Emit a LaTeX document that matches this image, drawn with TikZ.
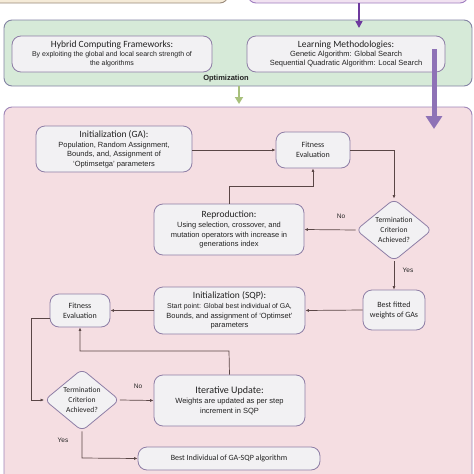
\documentclass[tikz,border=0pt]{standalone}
\usepackage{fontspec}
\setmainfont{Liberation Sans}
\newfontfamily\calfont{Carlito}
\usetikzlibrary{arrows.meta,shapes.geometric,calc}
\definecolor{bordc}{HTML}{8E7EA6}
\definecolor{boxfill}{HTML}{F2F1F3}
\definecolor{connc}{HTML}{5A4646}
\definecolor{pinkfill}{HTML}{F5DEE2}
\definecolor{pinkbord}{HTML}{9E86B8}
\definecolor{greenfill}{HTML}{D6EAD8}
\definecolor{greenbord}{HTML}{8383A3}
\definecolor{toplfill}{HTML}{F5EBD8}
\definecolor{toplbord}{HTML}{9A8A7A}
\definecolor{toprfill}{HTML}{F1E2F1}
\definecolor{toprbord}{HTML}{A07DC0}
\definecolor{darkpurp}{HTML}{6E3A9E}
\definecolor{lightpurp}{HTML}{8E72B6}
\definecolor{greenarr}{HTML}{A8C07C}
\definecolor{txt}{HTML}{222222}
\tikzset{
  box/.style={draw=bordc, fill=boxfill, rounded corners=9pt, line width=0.8pt,
    align=center, inner sep=1pt, text=txt, font=\fontsize{7.5}{9.6}\selectfont},
  panel/.style={rounded corners=8pt, line width=0.9pt, inner sep=0pt},
  dia/.style={draw=bordc, fill=boxfill, diamond, rounded corners=6pt,
    line width=0.8pt, inner sep=0pt},
  diatext/.style={align=center, text=txt, font=\calfont\fontsize{7.6}{10}\selectfont},
  conn/.style={draw=connc, line width=0.7pt, -{Latex[length=3.5pt,width=3pt]}},
  lbl/.style={text=txt, font=\fontsize{6.5}{8}\selectfont}
}
\newcommand{\ttlfont}{\calfont\fontsize{9.5}{11}\selectfont}
\newcommand{\smcal}{\calfont\fontsize{8}{10}\selectfont}
\begin{document}
\begin{tikzpicture}[x=1pt,y=-1pt]
\useasboundingbox (0,0) rectangle (474,474);

% top partial panels
\node[panel, draw=toplbord, fill=toplfill, minimum width=240, minimum height=44] (topL) at (108,-19) {};
\node[panel, draw=toprbord, fill=toprfill, minimum width=220, minimum height=44] (topR) at (358,-19) {};

% green panel
\node[panel, draw=greenbord, fill=greenfill, minimum width=468, minimum height=66] (grn) at (238,53) {};
% pink panel
\node[panel, draw=pinkbord, fill=pinkfill, minimum width=468, minimum height=390] (pink) at (238,302) {};

% green panel contents
\node[box, minimum width=200, minimum height=36] (hyb) at (112,54)
  {{\ttlfont Hybrid Computing Frameworks:}\\[-0.5pt]
   {\fontsize{7}{9.5}\selectfont By exploiting the global and local search strength of}\\
   {\fontsize{7}{9.5}\selectfont the algorithms}};
\node[box, minimum width=198, minimum height=36] (learn) at (346,54)
  {{\ttlfont Learning Methodologies:}\\[-0.5pt]
   Genetic Algorithm: Global Search\\
   Sequential Quadratic Algorithm: Local Search};
\node[text=txt, font=\bfseries\fontsize{7.5}{9}\selectfont] (opt) at (226,79) {Optimization};

% arrows between panels
\coordinate (pa) at (359,28);
\draw[darkpurp, line width=1.6pt, -{Triangle[length=7pt,width=7pt]}] (topR.south -| pa) -- (pa);
\coordinate (ga1) at (239,86);
\coordinate (ga2) at (239,104);
\draw[greenarr, line width=2.4pt, -{Triangle[length=7pt,width=8pt]}] (ga1) -- (ga2);
\coordinate (ta1) at (434,49);
\coordinate (ta2) at (434,129);
\draw[lightpurp, line width=5pt, -{Triangle[length=13pt,width=16pt]}] (ta1) -- (ta2);

% GA part
\node[box, minimum width=156, minimum height=46] (initga) at (114,149)
  {{\ttlfont Initialization (GA):}\\[0.5pt]
   Population, Random Assignment,\\
   Bounds, and, Assignment of\\
   `Optimsetga' parameters};
\node[box, minimum width=74, minimum height=36, font=\smcal] (fit1) at (313,150)
  {Fitness\\Evaluation};
\node[dia, minimum width=76, minimum height=62] (d1) at (394,230) {};
\node[diatext] (d1t) at (394,229.5) {Termination\\Criterion\\Achieved?};
\node[box, minimum width=150, minimum height=51] (repro) at (229,229.5)
  {{\ttlfont Reproduction:}\\[0.5pt]
   Using selection, crossover, and\\
   mutation operators with increase in\\
   generations index};
\node[box, minimum width=62, minimum height=40, font=\smcal] (bestfit) at (394,310)
  {Best fitted\\weights of GAs};

% SQP part
\node[box, minimum width=151, minimum height=47] (initsqp) at (229.5,310.5)
  {{\ttlfont Initialization (SQP):}\\[0.5pt]
   {\fontsize{7}{9.5}\selectfont Start point: Global best individual of GA,}\\
   Bounds, and assignment of `Optimset'\\
   parameters};
\node[box, minimum width=60, minimum height=33, font=\smcal] (fit2) at (80,310.5)
  {Fitness\\Evaluation};
\node[dia, minimum width=75, minimum height=62] (d2) at (82,400) {};
\node[diatext] (d2t) at (82,400) {Termination\\Criterion\\Achieved?};
\node[box, minimum width=151, minimum height=51] (iter) at (229.5,400.5)
  {{\calfont\fontsize{10}{12}\selectfont Iterative Update:}\\[0.5pt]
   Weights are updated as per step\\
   increment in SQP};
\node[box, minimum width=182, minimum height=23, font=\smcal] (best) at (229,458.5)
  {Best Individual of GA-SQP algorithm};

% connectors
\draw[conn] (initga.east |- fit1.west) -- (fit1.west);
\coordinate (c1) at (394,150);
\draw[conn] (fit1.east) -- (c1) -- (d1.north);
\draw[conn] (d1.west) -- (repro.east);
\coordinate (c2) at (229,186);
\coordinate (c3) at (313,186);
\draw[conn] (repro.north) -- (c2) -- (c3) -- (fit1.south);
\draw[conn] (d1.south) -- (bestfit.north);
\draw[conn] (bestfit.west) -- (initsqp.east);
\draw[conn] (initsqp.west) -- (fit2.east);
\coordinate (c4) at (31,400);
\draw[conn] ([yshift=-7.5pt]fit2.west) -| (c4) -- (d2.west);
\draw[conn] (d2.east) -- (iter.west);
\coordinate (c5) at (229,351);
\coordinate (c6) at (80,351);
\draw[conn] (iter.north) -- (c5) -- (c6) -- (fit2.south);
\coordinate (c7) at (82,458);
\draw[conn] (d2.south) -- (c7) -- (best.west);

% labels
\node[lbl] (no1) at (341,216) {No};
\node[lbl] (yes1) at (408,270) {Yes};
\node[lbl] (no2) at (138,386) {No};
\node[lbl] (yes2) at (63,440) {Yes};
\end{tikzpicture}
\end{document}
